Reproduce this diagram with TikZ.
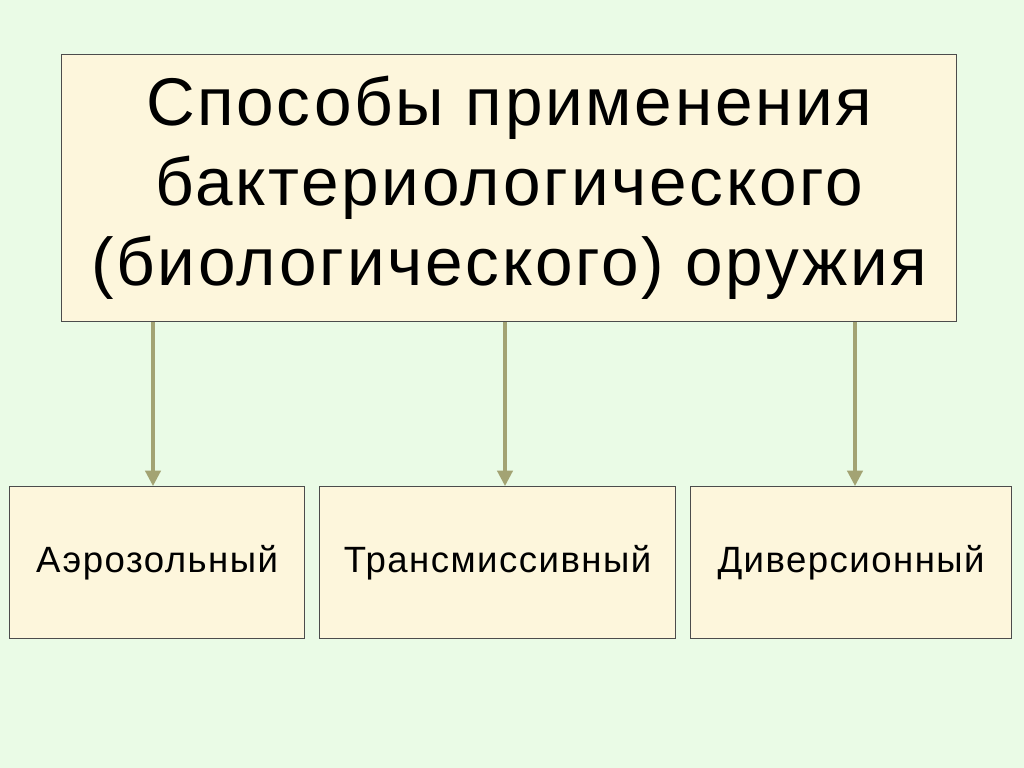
\documentclass[tikz,border=0pt]{standalone}
\usepackage{fontspec}
\setmainfont{Liberation Sans}[LetterSpace=4]
\usetikzlibrary{arrows.meta}
\definecolor{bg}{HTML}{EAFBE6}
\definecolor{boxfill}{HTML}{FDF6DC}
\definecolor{arrowcol}{HTML}{A3A373}
\tikzset{
  box/.style = {draw=black!70, fill=boxfill, line width=0.8pt},
  link/.style = {draw=arrowcol, line width=2.2pt, -{Triangle[length=11pt,width=11pt]}}
}
\begin{document}
\begin{tikzpicture}[x=0.025cm, y=-0.025cm]
  \fill[bg] (0,0) rectangle (1024,768);
  \useasboundingbox (0,0) rectangle (1024,768);
  %top box
  \node[box, minimum width=895*0.025cm, minimum height=267*0.025cm, anchor=north west,
        align=center, font=\fontsize{48}{57}\selectfont] (main) at (61,54)
        {Способы применения\\бактериологического\\(биологического) оружия};
  %bottom boxes
  \node[box, minimum width=295*0.025cm, minimum height=152*0.025cm, anchor=north west,
        font=\fontsize{26}{28}\selectfont] (aero) at (9,486) {Аэрозольный};
  \node[box, minimum width=356*0.025cm, minimum height=152*0.025cm, anchor=north west,
        font=\fontsize{26}{28}\selectfont] (trans) at (319,486) {Трансмиссивный};
  \node[box, minimum width=321*0.025cm, minimum height=152*0.025cm, anchor=north west,
        font=\fontsize{26}{28}\selectfont] (div) at (690,486) {Диверсионный};
  \draw[link] (main.south -| 153,0) -- (aero.north -| 153,0);
  \draw[link] (main.south -| 505,0) -- (trans.north -| 505,0);
  \draw[link] (main.south -| 855,0) -- (div.north -| 855,0);
\end{tikzpicture}
\end{document}
